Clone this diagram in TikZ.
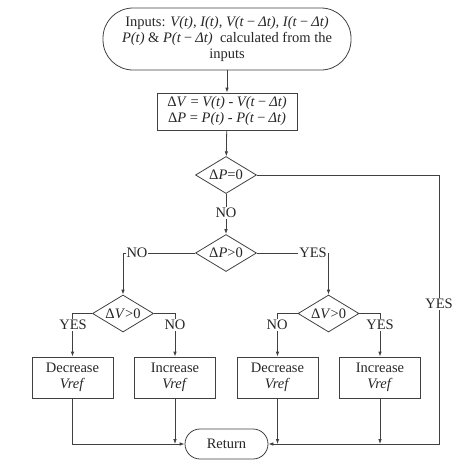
\documentclass[tikz,border=0pt]{standalone}
\usepackage{fontspec}
\setmainfont{Liberation Serif}
\usetikzlibrary{shapes.geometric,arrows.meta}
\begin{document}
\begin{tikzpicture}[x=1pt,y=-1pt,
  every node/.style={font=\fontsize{14.5}{16}\selectfont, text=black!85},
  line/.style={draw=black!75, line width=0.8pt},
  arr/.style={line, -{Latex[length=5pt,width=3.6pt]}},
  term/.style={line, rectangle, rounded corners=#1, align=center, inner sep=1pt},
  proc/.style={line, rectangle, align=center, inner sep=1pt},
  cond/.style={line, diamond, aspect=1.65, inner sep=0pt, minimum width=61pt, minimum height=37pt},
  lbl/.style={fill=white, inner sep=1pt}
]
\useasboundingbox (0,0) rectangle (474,474);
\node[term=30pt, minimum width=248pt, minimum height=62pt] (start) at (227,39)
  {Inputs: \textit{V(t), I(t), V(t\,−\,Δt), I(t\,−\,Δt)}\\
   \textit{P(t)} \& \textit{P(t\,−\,Δt)} \ calculated from the\\ inputs};
\node[proc, minimum width=140pt, minimum height=37pt] (calc) at (227,111.5)
  {Δ\textit{V} = \textit{V(t)} - \textit{V(t\,−\,Δt)}\\ Δ\textit{P} = \textit{P(t)} - \textit{P(t\,−\,Δt)}};
\node[cond] (d1) at (226,175) {Δ\textit{P}=0};
\node[cond] (d2) at (226,253) {Δ\textit{P}>0};
\node[cond] (d3) at (123,313.5) {Δ\textit{V}>0};
\node[cond] (d4) at (328.5,313.5) {Δ\textit{V}>0};
\node[proc, minimum width=81pt, minimum height=41pt] (dec1) at (72.5,377.5) {Decrease\\ \textit{Vref}};
\node[proc, minimum width=81pt, minimum height=41pt] (inc1) at (175,377.5) {Increase\\ \textit{Vref}};
\node[proc, minimum width=81pt, minimum height=41pt] (dec2) at (277.5,377.5) {Decrease\\ \textit{Vref}};
\node[proc, minimum width=81pt, minimum height=41pt] (inc2) at (380,377.5) {Increase\\ \textit{Vref}};
\node[term=15pt, minimum width=83pt, minimum height=30pt] (ret) at (226.5,444) {Return};
\coordinate (rc) at (439,175);
% connectors
\draw[arr] (start) -- (calc);
\draw[arr] (calc) -- (d1);
\draw[arr] (d1) -- (d2);
\draw[arr] (d2.west) -| (d3.north);
\draw[arr] (d2.east) -| (d4.north);
\draw[arr] (d3.west) -| (dec1.north);
\draw[arr] (d3.east) -| (inc1.north);
\draw[arr] (d4.west) -| (dec2.north);
\draw[arr] (d4.east) -| (inc2.north);
\draw[arr] (dec1.south) |- (ret.west);
\draw[arr] (inc1.south) -- (inc1.south |- ret.west);
\draw[arr] (dec2.south) -- (dec2.south |- ret.east);
\draw[arr] (inc2.south) -- (inc2.south |- ret.east);
\draw[arr] (d1.east) -- (rc) |- (ret.east);
% labels
\node[lbl] (l1) at (226,213) {NO};
\node[lbl] (l2) at (137,253) {NO};
\node[lbl] (l3) at (313,253) {YES};
\node[lbl] (l4) at (73,325) {YES};
\node[lbl] (l5) at (175,325) {NO};
\node[lbl] (l6) at (277,325) {NO};
\node[lbl] (l7) at (380,325) {YES};
\node[lbl] (l8) at (439,304) {YES};
\end{tikzpicture}
\end{document}
